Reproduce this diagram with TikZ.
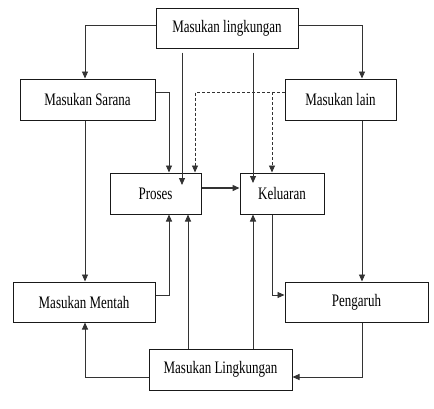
\documentclass[tikz,border=0pt]{standalone}
\usepackage{fontspec}
\setmainfont{Liberation Serif}
\usetikzlibrary{arrows.meta}
\newcommand{\stretchtxt}[1]{\scalebox{1}[1.35]{#1}}
\begin{document}
\begin{tikzpicture}[x=1pt,y=-1pt,
  box/.style={draw=black!90,line width=1pt,rectangle,inner sep=0pt,font=\fontsize{13}{15}\selectfont},
  arr/.style={draw=black!80,line width=0.9pt,-{Triangle[length=7pt,width=6pt]}}]
\fill[white] (0,0) rectangle (434,408);
\useasboundingbox (0,0) rectangle (434,408);
\node[box,minimum width=142pt,minimum height=40pt] (top) at (227,28) {\stretchtxt{Masukan lingkungan}};
\node[box,minimum width=135pt,minimum height=41pt] (sarana) at (87.5,99.5) {\stretchtxt{Masukan Sarana}};
\node[box,minimum width=111pt,minimum height=41pt] (lain) at (340.5,99.5) {\stretchtxt{Masukan lain}};
\node[box,minimum width=91pt,minimum height=41pt] (proses) at (155.5,193.5) {\stretchtxt{Proses}};
\node[box,minimum width=84pt,minimum height=41pt] (keluaran) at (282,193.5) {\stretchtxt{Keluaran}};
\node[box,minimum width=142pt,minimum height=40pt] (mentah) at (84,302) {\stretchtxt{Masukan Mentah}};
\node[box,minimum width=143pt,minimum height=40pt] (pengaruh) at (356.5,302) {\stretchtxt{Pengaruh}};
\node[box,minimum width=143pt,minimum height=41pt] (lingk) at (220.5,369.5) {\stretchtxt{Masukan Lingkungan}};
\coordinate (L1) at (85,25);
\coordinate (R1) at (362,25);
\coordinate (X1) at (182,185);
\coordinate (X2) at (253,183);
\coordinate (B1) at (169,92);
\coordinate (D1) at (195,92);
\coordinate (D2) at (272,92);
\coordinate (B2) at (169,295);
\coordinate (U1) at (188,349);
\coordinate (K1) at (272,295);
\coordinate (P1) at (362,377);
\coordinate (M1) at (85,377);
\draw[arr] (top.west |- L1) -- (L1) -- (L1 |- sarana.north);
\draw[arr] (top.east |- R1) -- (R1) -- (R1 |- lain.north);
\draw[arr] ([yshift=-4pt]top.south -| X1) -- (X1);
\draw[arr] ([yshift=-4pt]top.south -| X2) -- (X2);
\draw[arr] (sarana.east |- B1) -- (B1) -- (B1 |- proses.north);
\draw[arr,dashed,dash pattern=on 3pt off 2pt] (lain.west |- D1) -- (D1) -- (D1 |- proses.north);
\draw[arr,dashed,dash pattern=on 3pt off 2pt] (D2) -- (D2 |- keluaran.north);
\draw[arr,line width=1.4pt] ([yshift=5.5pt]proses.east) -- ([yshift=5.5pt]keluaran.west);
\draw[arr] (L1 |- sarana.south) -- (L1 |- mentah.north);
\draw[arr] (R1 |- lain.south) -- (R1 |- pengaruh.north);
\draw[arr] (mentah.east |- B2) -- (B2) -- (B2 |- proses.south);
\draw[arr] (U1) -- (U1 |- proses.south);
\draw[arr] (lingk.north -| X2) -- (X2 |- keluaran.south);
\draw[arr] (D2 |- keluaran.south) -- (K1) -- (pengaruh.west |- K1);
\draw[arr] (R1 |- pengaruh.south) -- (P1) -- (lingk.east |- P1);
\draw[arr] (lingk.west |- M1) -- (M1) -- (M1 |- mentah.south);
\end{tikzpicture}
\end{document}
